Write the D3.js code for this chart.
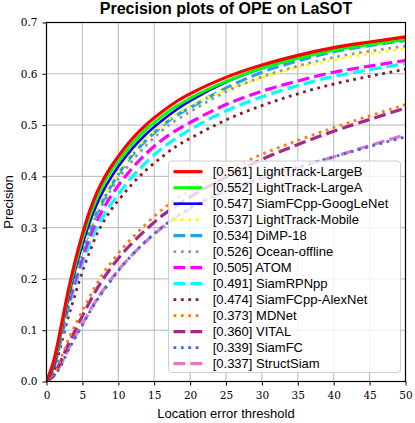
<!DOCTYPE html>
<html>
<head>
<meta charset="utf-8">
<script src="https://cdn.jsdelivr.net/npm/d3@7"></script>
<style>
  html, body { margin: 0; padding: 0; background: #fff; }
  svg { display: block; }
</style>
</head>
<body>
<svg id="chart" width="415" height="423"></svg>
<script>
// ---------------- data ----------------
const thresholds = [0,1,2,3,4,5,6,7,8,9,10,12,14,16,18,20,25,30,35,40,45,50];

const trackerNames = [
  "LightTrack-LargeB","LightTrack-LargeA","SiamFCpp-GoogLeNet","LightTrack-Mobile",
  "DiMP-18","Ocean-offline","ATOM","SiamRPNpp","SiamFCpp-AlexNet","MDNet","VITAL","SiamFC","StructSiam"
];
const trackerScores = ["0.561","0.552","0.547","0.537","0.534","0.526","0.505","0.491","0.474","0.373","0.360","0.339","0.337"];

const lightTrackLargeB  = [0,.040,.105,.175,.235,.287,.332,.368,.396,.419,.439,.474,.502,.525,.545,.561,.593,.617,.636,.651,.662,.672];
const lightTrackLargeA  = [0,.036,.099,.168,.226,.277,.321,.357,.386,.410,.429,.464,.493,.516,.536,.552,.585,.611,.630,.646,.657,.667];
const siamFCppGoogLeNet = [0,.030,.094,.161,.218,.267,.310,.345,.374,.398,.419,.455,.484,.508,.529,.547,.584,.611,.631,.647,.659,.669];
const lightTrackMobile  = [0,.034,.095,.158,.212,.258,.300,.335,.362,.387,.408,.446,.476,.500,.521,.537,.568,.592,.612,.627,.639,.649];
const dimp18            = [0,.030,.090,.156,.209,.255,.295,.328,.356,.381,.404,.442,.472,.497,.518,.534,.572,.603,.625,.643,.655,.665];
const oceanOffline      = [0,.030,.090,.154,.207,.253,.292,.324,.350,.374,.395,.431,.462,.488,.509,.526,.565,.594,.615,.632,.644,.654];
const atom              = [0,.028,.085,.147,.197,.241,.281,.313,.339,.362,.382,.417,.446,.470,.489,.505,.540,.566,.586,.603,.615,.626];
const siamRPNpp         = [0,.025,.080,.140,.188,.230,.269,.300,.325,.346,.365,.400,.429,.454,.474,.491,.528,.555,.577,.595,.608,.620];
const siamFCppAlexNet   = [0,.020,.070,.124,.170,.215,.252,.287,.313,.335,.353,.386,.414,.437,.458,.474,.510,.538,.561,.580,.595,.609];
const mdnet             = [0,.015,.045,.080,.110,.138,.165,.190,.213,.232,.250,.281,.309,.334,.355,.373,.410,.443,.470,.495,.518,.540];
const vital             = [0,.012,.040,.072,.100,.128,.155,.180,.202,.222,.240,.271,.298,.322,.342,.360,.398,.433,.462,.488,.511,.533];
const siamFC            = [0,.010,.030,.060,.085,.110,.135,.158,.178,.197,.216,.248,.276,.300,.321,.339,.372,.397,.418,.438,.458,.477];
const structSiam        = [0,.012,.033,.062,.088,.112,.137,.160,.180,.199,.217,.248,.275,.299,.319,.337,.370,.396,.417,.438,.460,.481];

const seriesValues = [lightTrackLargeB, lightTrackLargeA, siamFCppGoogLeNet, lightTrackMobile, dimp18,
  oceanOffline, atom, siamRPNpp, siamFCppAlexNet, mdnet, vital, siamFC, structSiam];

const xTicks = [0,5,10,15,20,25,30,35,40,45,50];
const yTicks = [0,0.1,0.2,0.3,0.4,0.5,0.6,0.7];

// ---------------- styles ----------------
const colors = ["#ff0000","#00ff00","#0000ff","#ffff00","#22a3e3","#999999","#ff00ff","#00ffff",
                "#8b1a2b","#ff7f0e","#a6268c","#4169d8","#df78c8"];
const styles = ["solid","solid","solid","dotted","dashed","dotted","dashed","dashed","dotted","dotted","dashed","dotted","dashed"];
const widths = [3.2,3,2.6,2.8,3.2,2.8,3.2,3.2,2.8,2.8,3.2,2.8,3.2];
function dash(style, w){
  if (style === "dashed") return (3.7*w).toFixed(1) + "," + (1.6*w).toFixed(1);
  if (style === "dotted") return w.toFixed(1) + "," + (1.65*w).toFixed(1);
  return null;
}

// ---------------- layout ----------------
const svg = d3.select("#chart");
const L = 46.5, R = 405.5, T = 22.5, B = 381.5;
const x = d3.scaleLinear().domain([0,50]).range([L,R]);
const y = d3.scaleLinear().domain([0,0.7]).range([B,T]);

svg.append("rect").attr("width",415).attr("height",423).attr("fill","#fff");

// grid
const grid = svg.append("g").attr("stroke","#b0b0b0").attr("stroke-width",0.9);
xTicks.forEach(t => grid.append("line").attr("x1",x(t)).attr("x2",x(t)).attr("y1",T).attr("y2",B));
yTicks.forEach(t => grid.append("line").attr("y1",y(t)).attr("y2",y(t)).attr("x1",L).attr("x2",R));

// clip
svg.append("clipPath").attr("id","clip").append("rect")
  .attr("x",L).attr("y",T).attr("width",R-L).attr("height",B-T);

const line = d3.line().x(d => x(d[0])).y(d => y(d[1])).curve(d3.curveMonotoneX);
const plotG = svg.append("g").attr("clip-path","url(#clip)");
for (let i = seriesValues.length - 1; i >= 0; i--) {
  const pts = thresholds.map((t,k) => [t, seriesValues[i][k]]);
  plotG.append("path").attr("d", line(pts))
    .attr("fill","none").attr("stroke",colors[i]).attr("stroke-width",widths[i])
    .attr("stroke-dasharray", dash(styles[i], widths[i]))
    .attr("stroke-linecap","butt").attr("stroke-linejoin","round");
}

// axes
const xAxis = d3.axisBottom(x).tickValues(xTicks).tickSize(4).tickPadding(4).tickFormat(d3.format("d"));
const yAxis = d3.axisLeft(y).tickValues(yTicks).tickSize(4).tickPadding(5).tickFormat(d3.format(".1f"));
const gx = svg.append("g").attr("transform",`translate(0,${B})`).call(xAxis);
const gy = svg.append("g").attr("transform",`translate(${L},0)`).call(yAxis);
[gx,gy].forEach(g => {
  g.select(".domain").remove();
  g.selectAll("line").attr("stroke","#000").attr("stroke-width",1);
  g.selectAll("text").attr("font-family","'DejaVu Serif', serif").attr("font-size",10.5).attr("fill","#000");
});
gx.selectAll("text").attr("dy","0.9em");

// frame
svg.append("rect").attr("x",L).attr("y",T).attr("width",R-L).attr("height",B-T)
  .attr("fill","none").attr("stroke","#000").attr("stroke-width",1.2);

// titles
svg.append("text").attr("x",(L+R)/2).attr("y",14).attr("text-anchor","middle")
  .attr("font-family","'Liberation Sans', Arial, sans-serif").attr("font-weight","bold").attr("font-size",16)
  .text("Precision plots of OPE on LaSOT");
svg.append("text").attr("x",(L+R)/2).attr("y",417.5).attr("text-anchor","middle")
  .attr("font-family","'Liberation Sans', Arial, sans-serif").attr("font-size",13)
  .text("Location error threshold");
svg.append("text").attr("transform",`translate(13,${(T+B)/2}) rotate(-90)`).attr("text-anchor","middle")
  .attr("font-family","'Liberation Sans', Arial, sans-serif").attr("font-size",13)
  .text("Precision");

// legend
const lg = svg.append("g");
lg.append("rect").attr("x",168.5).attr("y",161).attr("width",232).attr("height",211.5)
  .attr("rx",3).attr("fill","#fff").attr("fill-opacity",0.8).attr("stroke","#cccccc").attr("stroke-width",1);
trackerNames.forEach((name,i) => {
  const yy = 171.7 + 16*i;
  lg.append("line").attr("x1",173.5).attr("x2",202.5).attr("y1",yy).attr("y2",yy)
    .attr("stroke",colors[i]).attr("stroke-width",widths[i])
    .attr("stroke-dasharray", dash(styles[i], widths[i]));
  lg.append("text").attr("x",212.7).attr("y",yy+4.6)
    .attr("font-family","'Liberation Sans', Arial, sans-serif").attr("font-size",13)
    .text(`[${trackerScores[i]}] ${name}`);
});
</script>
</body>
</html>
